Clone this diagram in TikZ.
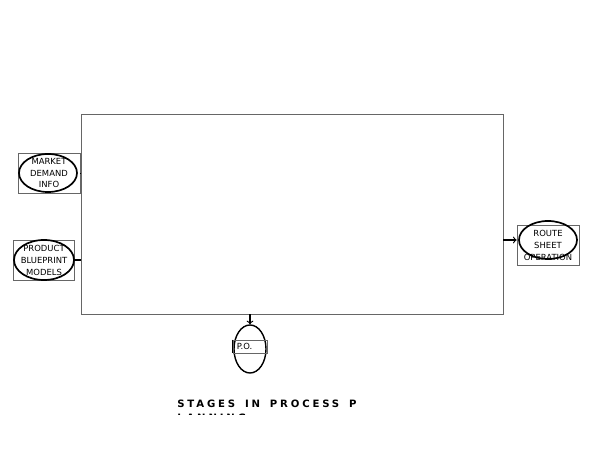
\documentclass[tikz,border=0pt]{standalone}
\usepackage{fontspec}
\setmainfont{DejaVu Sans}
\newfontfamily\titlefont[LetterSpace=28]{DejaVu Sans}
\usepackage{tikz}
\usetikzlibrary{positioning,shapes.geometric}

\newcommand{\wgap}{\hspace{7pt}}
\tikzset{
	planbox/.style={draw=black!60, line width=0.5pt, minimum width=1.55cm, minimum height=1cm, inner sep=0pt},
	planell/.style={draw, ellipse, line width=1.2pt, inner sep=0pt},
	plantext/.style={align=center, font=\fontsize{6}{8.5}\selectfont, inner sep=0pt},
	plantitle/.style={inner sep=0pt, font=\titlefont\bfseries\fontsize{7.2}{8}\selectfont},
	planarrow/.style={->, line width=0.8pt}
}

\begin{document}
\begin{tikzpicture}[x=0.025cm, y=-0.025cm]
\useasboundingbox (0,0) rectangle (600,464);
\node[draw=black!60, line width=0.5pt, minimum width=10.55cm, minimum height=5cm, inner sep=0pt] (stage) at (292,214) {};
% inputs on the left
\node[planbox] (mktbox) at (49,173) {};
\node[planell, minimum width=1.45cm, minimum height=0.95cm] (mktell) at (48,173) {};
\node[plantext] (mkt) at (49,173) {MARKET\\DEMAND\\INFO};
\node[planbox, minimum width=1.52cm] (prodbox) at (43.5,260) {};
\node[planell, minimum width=1.5cm, minimum height=1cm] (prodell) at (44,260) {};
\node[plantext] (prod) at (44,260) {PRODUCT\\BLUEPRINT\\MODELS};
% output on the right
\node[planbox] (routebox) at (548,245) {};
\node[planell, minimum width=1.45cm, minimum height=0.95cm] (routeell) at (548,240) {};
\node[plantext] (route) at (548,245) {ROUTE\\SHEET\\OPERATION};
% purchase order below
\node[planell, line width=1pt, minimum width=0.8cm, minimum height=1.2cm] (po) at (250,349) {};
\node[draw=black!60, line width=0.5pt, minimum width=0.85cm, minimum height=0.33cm, inner sep=0pt] (pobox) at (250,346.5) {};
\draw[line width=1.2pt] (pobox.north west) -- (pobox.south west);
\node[plantext, anchor=west] (potext) at ([xshift=0.1cm]pobox.west) {P.O.};
\path (mktbox.east) edge [line width=0.6pt] (mktbox.east -| stage.west);
\path (prodbox.east) edge [line width=1pt] (prodbox.east -| stage.west);
\path (stage.east |- routeell.west) edge [planarrow] (routebox.west |- routeell.west);
\path (po.north |- stage.south) edge [planarrow] (po.north);
% title, second line cut off
\begin{scope}
\clip (0,0) rectangle (600,415);
\node[plantitle, anchor=west] (title) at (177,403.5) {STAGES\wgap IN\wgap PROCESS\wgap P};
\node[plantitle, anchor=north west] (title2) at ([yshift=-0.15cm]title.south west) {LANNING};
\end{scope}
\end{tikzpicture}
\end{document}
